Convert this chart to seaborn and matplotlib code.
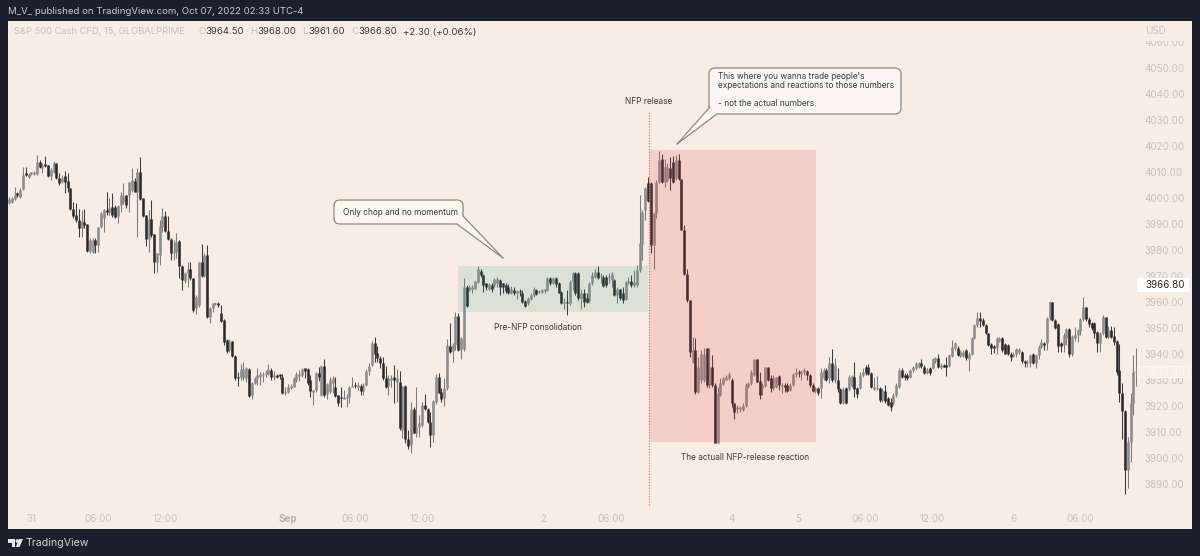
# S&P 500 15m candles with NFP annotations, TradingView look.
import matplotlib
matplotlib.use("Agg")
import matplotlib.pyplot as plt
import numpy as np
import pandas as pd
import seaborn as sns
from matplotlib.patches import Circle, FancyBboxPatch, Polygon, Rectangle
from matplotlib.transforms import Affine2D

opens = [
    3998.1,3998.5,3999.4,4001.9,4000.4,4003.2,4009.4,4008.1,4009.0,4009.1,
    4009.0,4013.9,4011.3,4013.0,4012.6,4008.5,4010.0,4013.2,4007.5,4006.2,
    4008.4,4006.4,4003.6,3995.7,3993.4,3991.4,3988.2,3990.8,3989.8,3979.6,
    3979.2,3983.7,3981.8,3988.6,3992.1,3995.3,3994.6,3996.6,3996.6,3993.0,
    3997.2,3998.5,4001.0,4001.0,4003.0,4006.6,4002.3,4009.8,3999.8,3993.4,
    3984.1,3991.8,3986.0,3975.4,3978.0,3988.9,3993.0,3987.3,3984.0,3978.6,
    3979.2,3983.4,3973.7,3968.1,3970.9,3972.8,3969.0,3957.5,3958.7,3975.4,
    3970.0,3978.0,3954.2,3957.5,3959.1,3959.4,3955.5,3953.0,3945.3,3941.4,
    3945.0,3939.1,3931.2,3930.9,3930.5,3930.5,3934.0,3924.1,3928.6,3930.5,
    3931.2,3931.8,3932.2,3932.4,3933.7,3931.2,3931.8,3932.1,3930.9,3924.8,
    3925.4,3926.7,3927.3,3929.9,3931.4,3931.8,3934.4,3934.0,3930.1,3925.4,
    3926.0,3932.7,3924.1,3935.3,3924.5,3925.4,3928.9,3927.3,3924.1,3923.5,
    3922.7,3922.8,3923.5,3927.3,3928.0,3927.3,3927.6,3925.8,3928.0,3933.5,
    3935.7,3944.2,3940.4,3938.2,3936.6,3930.5,3927.6,3929.9,3930.9,3929.2,
    3929.2,3910.7,3927.6,3907.1,3904.9,3918.6,3909.6,3911.9,3912.6,3920.3,
    3918.6,3913.9,3908.7,3921.6,3931.2,3925.4,3922.8,3926.7,3943.0,3941.2,
    3943.3,3954.5,3941.4,3942.0,3965.5,3964.5,3964.8,3965.1,3967.7,3971.9,
    3970.3,3967.1,3965.1,3966.4,3966.4,3967.3,3968.4,3967.1,3966.4,3965.8,
    3963.2,3964.5,3963.2,3964.2,3963.5,3960.4,3959.4,3960.9,3962.6,3964.5,
    3963.6,3963.9,3964.2,3964.5,3969.0,3967.1,3969.2,3967.1,3963.9,3959.4,
    3960.0,3959.6,3967.7,3971.2,3971.2,3961.3,3963.2,3961.3,3960.6,3967.1,
    3969.6,3971.5,3969.4,3969.6,3969.6,3969.4,3968.4,3968.4,3962.6,3964.8,
    3963.2,3960.9,3967.3,3968.1,3966.4,3966.4,3972.2,3982.4,3995.3,4005.5,
    4005.5,3981.8,3994.0,4006.2,4014.8,4006.2,4006.8,4011.3,4013.9,4007.5,
    4014.5,4007.1,3987.8,3970.6,3960.6,3936.9,3941.4,3925.4,3929.9,3929.9,
    3942.1,3927.9,3935.0,3927.9,3905.5,3924.1,3928.3,3930.1,3930.5,3930.1,
    3920.9,3918.6,3918.6,3918.4,3919.9,3927.6,3928.6,3931.8,3937.8,3929.6,
    3926.7,3927.6,3934.8,3930.5,3926.7,3927.3,3931.4,3927.6,3928.0,3928.0,
    3926.0,3928.0,3932.2,3933.1,3932.7,3933.1,3933.4,3931.8,3928.0,3925.8,
    3926.7,3926.7,3930.5,3933.7,3930.5,3936.3,3929.9,3930.1,3926.3,3920.9,
    3926.7,3926.3,3927.6,3931.2,3926.7,3926.7,3931.8,3934.8,3935.0,3932.5,
    3926.3,3926.3,3926.7,3922.2,3925.8,3922.8,3921.5,3920.9,3924.1,3927.3,
    3933.7,3931.8,3931.8,3931.2,3933.7,3934.4,3935.0,3936.3,3935.0,3932.7,
    3934.4,3934.4,3937.3,3938.2,3934.8,3935.7,3935.7,3935.3,3939.1,3942.1,
    3942.4,3939.1,3939.1,3941.4,3937.8,3940.1,3945.9,3951.0,3953.6,3952.9,
    3951.0,3947.8,3943.7,3943.0,3942.1,3945.0,3945.9,3943.7,3943.3,3940.1,
    3939.1,3939.9,3940.8,3940.8,3937.3,3936.3,3936.3,3940.1,3936.6,3939.5,
    3942.7,3944.2,3944.2,3953.6,3960.0,3953.0,3951.4,3944.2,3943.3,3945.9,
    3949.4,3939.9,3945.9,3947.2,3948.9,3953.2,3957.8,3953.2,3951.7,3951.9,
    3948.5,3944.2,3948.1,3954.0,3946.3,3949.1,3946.8,3945.0,3933.7,3925.0,
    3918.1,3895.3,3906.2,3920.9,3933.1,
]
closes = [
    3999.4,3999.8,4001.0,4001.0,4003.0,4008.7,4008.7,4009.0,4009.8,4010.0,
    4013.9,4011.9,4012.6,4012.2,4008.5,4010.7,4013.2,4007.7,4005.8,4007.8,
    4006.2,4003.6,3995.7,3993.0,3991.4,3988.2,3991.2,3989.5,3979.5,3983.7,
    3983.7,3981.8,3988.6,3994.0,3995.3,3994.6,3995.9,3993.4,3992.7,3996.8,
    4001.0,4000.7,3997.2,4006.2,4006.8,4002.3,4009.8,3999.4,3993.0,3984.1,
    3991.7,3985.7,3975.4,3978.6,3989.1,3993.0,3987.3,3984.0,3978.6,3979.2,
    3983.1,3973.7,3968.4,3970.9,3972.8,3969.0,3956.8,3961.9,3975.4,3970.0,
    3978.0,3954.0,3957.5,3959.4,3959.6,3958.7,3952.7,3944.6,3941.0,3944.6,
    3939.1,3930.5,3930.5,3934.0,3934.0,3934.4,3923.7,3928.9,3930.5,3931.8,
    3932.4,3932.4,3933.1,3934.0,3930.9,3931.8,3931.2,3931.4,3924.8,3925.4,
    3927.1,3927.6,3930.5,3932.4,3932.4,3934.0,3933.5,3928.6,3925.8,3926.0,
    3932.7,3931.2,3935.3,3924.1,3928.4,3930.1,3930.5,3923.7,3921.2,3922.8,
    3923.2,3923.5,3927.3,3927.7,3927.6,3928.0,3925.8,3928.0,3933.5,3935.3,
    3944.2,3940.1,3938.2,3936.3,3930.5,3927.1,3930.5,3930.5,3929.9,3930.5,
    3911.3,3927.6,3907.1,3904.5,3918.6,3909.6,3911.9,3913.2,3920.3,3918.6,
    3913.9,3908.7,3921.9,3931.2,3925.0,3922.5,3926.7,3943.3,3940.8,3943.3,
    3954.5,3941.4,3945.9,3965.8,3958.3,3965.8,3965.8,3968.1,3972.5,3970.3,
    3966.4,3965.5,3966.8,3965.1,3968.7,3968.6,3965.8,3965.5,3964.2,3963.5,
    3965.1,3963.2,3964.1,3963.6,3960.0,3958.4,3961.3,3962.6,3965.1,3962.9,
    3964.2,3964.5,3964.8,3969.0,3967.3,3969.0,3966.8,3963.5,3959.6,3960.0,
    3959.4,3967.7,3971.2,3963.2,3961.3,3963.2,3960.0,3960.0,3967.1,3970.3,
    3971.5,3969.0,3969.9,3966.0,3966.4,3969.9,3970.6,3962.6,3964.8,3961.3,
    3960.6,3967.7,3968.1,3966.4,3967.7,3972.2,3982.7,3994.6,4003.6,3998.9,
    3981.8,3994.2,4006.2,4014.5,4006.2,4011.9,4011.7,4007.8,4006.2,4014.5,
    4007.1,3987.8,3970.6,3960.6,3940.6,3941.4,3925.4,3935.0,3940.1,3940.1,
    3927.9,3935.0,3927.9,3905.5,3924.8,3928.6,3930.5,3931.2,3932.4,3920.9,
    3917.7,3919.4,3919.4,3919.9,3927.9,3928.6,3933.1,3937.8,3929.2,3924.1,
    3928.0,3934.8,3929.9,3926.7,3930.5,3930.9,3928.0,3928.0,3927.3,3925.8,
    3928.0,3932.2,3933.1,3932.5,3933.5,3933.7,3931.8,3928.0,3925.8,3926.7,
    3924.8,3933.1,3933.7,3929.9,3936.3,3929.9,3935.7,3926.3,3920.9,3926.3,
    3920.9,3931.2,3931.4,3926.3,3924.5,3931.8,3933.1,3932.5,3932.2,3927.3,
    3927.3,3926.8,3922.2,3926.0,3921.9,3920.3,3919.4,3924.1,3928.0,3933.7,
    3931.2,3930.9,3930.5,3933.7,3934.8,3936.3,3936.3,3935.3,3932.7,3933.7,
    3932.5,3937.8,3938.2,3935.0,3935.7,3935.0,3935.0,3939.5,3942.7,3944.2,
    3939.5,3940.8,3940.8,3938.2,3940.1,3945.9,3951.0,3953.6,3952.7,3951.0,
    3947.8,3943.3,3942.4,3942.1,3945.9,3945.9,3941.4,3940.1,3939.9,3938.9,
    3939.9,3941.7,3941.7,3937.3,3936.3,3936.9,3939.5,3936.6,3939.5,3942.7,
    3944.6,3943.3,3953.6,3960.0,3953.0,3949.8,3942.9,3942.9,3947.2,3949.4,
    3939.9,3946.8,3947.2,3949.1,3953.2,3957.8,3953.2,3951.4,3949.8,3947.8,
    3944.2,3948.1,3954.0,3946.3,3949.1,3946.5,3944.6,3933.1,3925.0,3918.1,
    3895.3,3906.2,3920.9,3933.1,3933.4,
]
highs = [
    4000.4,4000.4,4004.2,4002.3,4003.6,4011.9,4011.9,4009.4,4010.0,4010.4,
    4016.4,4014.5,4013.2,4016.2,4012.8,4011.3,4014.3,4013.5,4009.4,4008.7,
    4010.4,4009.4,4003.9,3998.5,3998.1,3995.7,3995.3,3995.5,3989.8,3984.4,
    3984.4,3984.6,3988.6,3994.6,3995.5,4002.3,3999.8,4001.7,3997.2,3997.2,
    4002.3,4005.5,4001.0,4006.2,4011.3,4007.5,4011.3,4015.5,4000.1,3993.4,
    3995.3,3999.1,3986.0,3978.6,3991.4,3995.9,3995.0,3993.0,3984.4,3983.7,
    3986.3,3983.7,3974.1,3971.6,3975.4,3975.4,3969.3,3962.6,3975.4,3982.2,
    3978.6,3981.8,3958.1,3959.6,3960.0,3959.8,3958.7,3953.2,3945.5,3945.5,
    3945.0,3939.4,3933.1,3936.0,3936.9,3934.8,3934.4,3929.2,3931.2,3934.4,
    3933.1,3933.1,3933.7,3936.0,3934.4,3933.5,3932.4,3932.4,3932.4,3927.3,
    3928.4,3928.4,3931.2,3933.1,3933.7,3934.4,3934.4,3934.4,3931.8,3926.0,
    3933.1,3934.8,3935.7,3937.8,3928.6,3930.9,3931.4,3930.9,3924.1,3927.3,
    3926.0,3924.5,3927.6,3930.9,3929.2,3929.2,3928.4,3928.6,3934.0,3936.3,
    3945.0,3946.3,3943.0,3939.1,3938.9,3935.3,3931.8,3931.8,3935.7,3934.0,
    3933.5,3927.6,3928.0,3910.7,3921.6,3919.6,3927.3,3916.4,3921.6,3924.5,
    3919.0,3917.7,3922.2,3932.4,3932.7,3926.7,3930.5,3945.5,3951.7,3944.0,
    3956.2,3955.5,3946.3,3969.0,3966.4,3966.4,3966.4,3968.1,3973.7,3972.8,
    3970.6,3967.3,3967.3,3967.3,3969.0,3969.4,3968.6,3967.3,3967.1,3966.8,
    3966.0,3965.8,3964.5,3964.8,3964.5,3960.6,3961.9,3963.2,3965.8,3964.8,
    3964.5,3964.8,3965.1,3969.4,3969.6,3969.6,3969.6,3967.7,3964.1,3961.3,
    3964.5,3968.3,3971.5,3971.5,3971.5,3964.8,3965.1,3963.2,3967.7,3971.5,
    3972.8,3973.7,3970.9,3970.3,3970.3,3971.2,3971.5,3968.6,3965.8,3965.1,
    3965.8,3968.1,3969.6,3970.3,3972.2,3974.1,4001.0,3995.3,4004.2,4008.1,
    4006.2,3994.2,4006.8,4018.1,4016.8,4015.1,4013.2,4015.8,4016.0,4016.4,
    4016.8,4007.4,3989.5,3972.8,3960.6,3946.5,3945.9,3938.9,3941.4,3942.1,
    3942.4,3942.1,3939.5,3928.6,3927.3,3930.5,3930.9,3931.8,3933.1,3930.5,
    3920.9,3920.3,3919.9,3920.9,3928.6,3929.2,3933.7,3937.8,3937.8,3933.1,
    3928.6,3935.0,3935.0,3931.8,3931.8,3931.2,3931.8,3928.6,3928.6,3928.6,
    3928.6,3932.5,3934.4,3933.7,3933.7,3934.4,3933.7,3932.2,3928.6,3927.3,
    3927.3,3934.4,3934.4,3934.4,3938.9,3941.7,3938.2,3934.4,3926.7,3927.3,
    3927.3,3931.8,3931.8,3936.9,3927.3,3933.1,3934.4,3935.7,3936.0,3933.1,
    3931.2,3931.4,3927.3,3926.7,3928.0,3923.5,3922.8,3924.8,3928.6,3934.4,
    3934.4,3932.5,3932.5,3934.0,3935.3,3936.9,3936.9,3937.8,3935.7,3934.4,
    3935.0,3938.2,3938.9,3939.9,3936.3,3935.9,3938.6,3940.1,3945.3,3944.6,
    3942.9,3941.4,3941.4,3941.7,3940.8,3946.6,3951.4,3956.2,3956.2,3953.6,
    3951.4,3948.1,3944.0,3943.3,3946.6,3946.6,3946.6,3944.0,3943.7,3940.8,
    3940.8,3942.1,3942.1,3941.0,3937.6,3937.6,3939.9,3940.4,3940.1,3943.3,
    3945.5,3944.6,3954.2,3960.4,3960.0,3953.2,3951.7,3944.6,3947.8,3949.8,
    3949.8,3947.2,3950.4,3949.4,3953.6,3961.7,3958.1,3954.2,3952.3,3952.3,
    3948.9,3948.5,3954.9,3954.2,3950.6,3950.6,3950.4,3945.3,3943.7,3928.6,
    3918.3,3908.1,3924.8,3939.5,3942.4,
]
lows = [
    3997.8,3998.1,3999.1,4000.4,4000.1,4003.0,4008.4,4007.6,4008.6,4008.7,
    4008.7,4011.3,4009.4,4011.7,4008.1,4006.8,4009.4,4007.1,4004.9,4005.8,
    4001.9,4002.3,3995.3,3992.1,3990.8,3984.8,3984.8,3988.2,3979.3,3978.9,
    3978.6,3978.6,3979.3,3988.2,3986.9,3993.4,3993.4,3992.7,3992.1,3990.4,
    3994.6,3997.8,3995.9,3994.6,4002.3,4002.3,3985.0,3999.1,3992.7,3981.4,
    3979.3,3985.0,3970.9,3971.6,3974.1,3986.9,3986.9,3983.7,3976.0,3976.0,
    3976.7,3969.0,3964.5,3967.1,3965.8,3968.4,3956.2,3955.3,3958.1,3969.6,
    3969.6,3953.6,3951.9,3956.2,3958.7,3958.1,3952.3,3943.3,3940.4,3940.8,
    3938.9,3930.1,3927.6,3930.1,3930.1,3929.2,3923.2,3922.5,3928.4,3928.0,
    3928.0,3929.2,3931.2,3931.8,3930.1,3930.1,3930.5,3930.3,3924.5,3924.1,
    3925.0,3926.3,3927.1,3929.2,3929.6,3930.9,3930.5,3928.0,3923.5,3920.3,
    3925.4,3929.6,3923.9,3923.5,3922.5,3924.8,3924.8,3923.5,3919.9,3919.4,
    3922.5,3919.4,3921.2,3927.1,3926.7,3926.0,3924.1,3924.1,3927.6,3931.8,
    3935.3,3936.9,3936.9,3934.4,3929.9,3926.7,3924.1,3927.3,3921.2,3921.6,
    3910.7,3907.5,3905.5,3903.2,3901.9,3909.4,3908.1,3908.1,3911.9,3918.4,
    3913.2,3904.2,3906.2,3920.7,3924.8,3921.6,3919.9,3926.0,3940.4,3936.9,
    3941.4,3941.2,3937.8,3941.0,3958.1,3964.2,3963.2,3964.8,3967.3,3969.6,
    3963.9,3964.5,3964.5,3963.9,3965.8,3965.8,3962.6,3963.2,3963.2,3962.9,
    3962.9,3962.6,3960.9,3962.2,3959.4,3957.8,3958.7,3960.6,3961.9,3962.6,
    3963.2,3963.2,3963.2,3964.2,3966.4,3966.8,3965.8,3963.2,3959.1,3957.4,
    3954.9,3958.7,3964.5,3962.6,3960.6,3957.4,3958.1,3959.4,3959.6,3966.4,
    3969.0,3968.6,3967.3,3965.8,3965.8,3967.3,3965.8,3962.2,3959.4,3960.6,
    3959.6,3960.6,3966.8,3965.8,3965.8,3965.8,3971.5,3976.0,3991.4,3998.5,
    3978.6,3972.8,3992.1,4005.8,4005.5,4004.2,4006.2,4003.0,4005.8,4006.8,
    4006.8,3987.6,3970.3,3960.0,3938.9,3936.3,3924.5,3924.8,3928.6,3929.2,
    3927.3,3926.7,3927.3,3905.5,3905.5,3923.7,3928.0,3929.9,3930.1,3919.4,
    3915.1,3917.1,3917.7,3918.1,3919.6,3926.7,3928.0,3931.4,3929.2,3922.5,
    3924.1,3927.3,3929.6,3925.4,3926.0,3926.7,3926.0,3925.0,3925.4,3925.4,
    3925.8,3927.6,3931.2,3930.9,3930.1,3931.8,3930.1,3927.3,3925.4,3925.0,
    3924.1,3922.8,3929.9,3929.6,3928.6,3929.2,3928.6,3925.4,3920.6,3920.6,
    3920.6,3925.8,3927.3,3923.5,3922.8,3926.3,3930.9,3931.8,3931.8,3926.7,
    3926.0,3926.0,3921.5,3921.5,3920.9,3919.9,3918.1,3920.3,3923.5,3926.7,
    3930.5,3929.9,3930.1,3930.5,3933.1,3933.7,3934.4,3934.4,3932.2,3932.2,
    3931.8,3934.0,3936.5,3934.4,3934.0,3934.8,3931.4,3934.8,3938.6,3941.4,
    3939.1,3938.9,3938.6,3937.6,3933.5,3939.5,3945.5,3950.4,3950.4,3950.6,
    3947.6,3942.9,3939.9,3940.4,3939.9,3944.6,3940.8,3939.9,3939.5,3937.3,
    3938.6,3938.6,3940.1,3936.6,3934.8,3935.0,3934.8,3936.0,3934.4,3937.8,
    3942.4,3941.4,3941.4,3953.0,3952.7,3949.4,3940.8,3940.8,3940.8,3943.3,
    3938.9,3939.1,3945.0,3944.6,3947.2,3952.7,3952.7,3950.4,3949.1,3945.9,
    3940.8,3940.8,3947.2,3945.9,3945.9,3945.9,3943.3,3931.8,3921.6,3907.4,
    3886.0,3888.2,3898.5,3916.4,3927.6,
]

time_ticks = [8, 32, 56, 100, 124, 148, 191.5, 216, 259, 283, 307, 331, 360, 384]
time_labels = ['31', '06:00', '12:00', 'Sep', '06:00', '12:00', '2', '06:00',
               '4', '5', '06:00', '12:00', '6', '06:00']
price_ticks = list(range(3890, 4061, 10))

# annotated zones (first bar, last bar, low, high)
consolidation = [160.9, 229.0, 3956.0, 3973.7]
reaction = [229.4, 289.2, 3906.0, 4018.3]
nfp_line = [229.4, 3881.8, 4033.0]

BG = '#f7ede4'
DARK = '#1c202c'
TICK = '#c6c2be'
TEXT = '#3c3c3c'

sns.set_theme(style='white')
plt.rcParams['font.family'] = ['Inter', 'DejaVu Sans']

df = pd.DataFrame({'bar': np.arange(len(opens)), 'open': opens, 'high': highs,
                   'low': lows, 'close': closes})
df['direction'] = np.where(df['close'] >= df['open'], 'up', 'down')
wicks = df.melt(id_vars=['bar', 'direction'], value_vars=['low', 'high'], value_name='price')
bodies = df.melt(id_vars=['bar', 'direction'], value_vars=['open', 'close'], value_name='price')
palette = {'up': '#8b8b8b', 'down': '#2a2a2a'}
wick_palette = {'up': '#7a7a7a', 'down': '#3a3a3a'}

fig = plt.figure(figsize=(12, 5.56), dpi=100, facecolor=DARK)
ax = fig.add_axes([8 / 1200, 1 - 529 / 556, 1184 / 1200, 508 / 556], facecolor=BG)

sns.lineplot(data=wicks, x='bar', y='price', units='bar', hue='direction', estimator=None,
             palette=wick_palette, sort=False, linewidth=0.75, legend=False, ax=ax,
             solid_capstyle='butt', zorder=2)
sns.lineplot(data=bodies, x='bar', y='price', units='bar', hue='direction', estimator=None,
             palette=palette, sort=False, linewidth=1.85, legend=False, ax=ax,
             solid_capstyle='butt', zorder=3)

ax.set_xlim(-0.36, 424.0)
ax.set_ylim(3872.6, 4068.0)
ax.set_xlabel('')
ax.set_ylabel('')
sns.despine(ax=ax, left=True, bottom=True, right=True, top=True)

ax.set_xticks(time_ticks)
ax.set_xticklabels(time_labels)
ax.set_yticks(price_ticks)
ax.set_yticklabels([f'{p:.2f}' for p in price_ticks])
ax.yaxis.tick_right()
ax.tick_params(axis='x', length=0, pad=-11, labelsize=7.1, labelcolor=TICK)
ax.tick_params(axis='y', length=0, pad=-34, labelsize=7.1, labelcolor=TICK)
for lab in ax.get_xticklabels():
    if lab.get_text() == 'Sep':
        lab.set_fontweight('bold')
        lab.set_color('#b5b2ae')

# zones sit over the candles, that's why they tint them
ax.add_patch(Rectangle((consolidation[0], consolidation[2]), consolidation[1] - consolidation[0],
                       consolidation[3] - consolidation[2], facecolor='#1e9682', alpha=0.13,
                       lw=0, zorder=4))
ax.add_patch(Rectangle((reaction[0], reaction[2]), reaction[1] - reaction[0],
                       reaction[3] - reaction[2], facecolor='#f23645', alpha=0.17,
                       lw=0, zorder=4))
ax.plot([nfp_line[0], nfp_line[0]], nfp_line[1:], color='#e0686c', lw=0.8, ls=(0, (1, 1.5)), zorder=5)

# everything below is placed in image pixels, y going down
px = Affine2D().scale(1, -1).translate(0, 556)


def label(x, y, s, color=TEXT, size=6.0, ha='left', **kw):
    fig.text(x / 1200, 1 - y / 556, s, color=color, fontsize=size, ha=ha, va='center', **kw)


def callout(x0, y0, x1, y1, tail, text_x, text_y, text):
    edge = '#8c8880'
    fig.add_artist(FancyBboxPatch((x0, y0), x1 - x0, y1 - y0, boxstyle='round,pad=0,rounding_size=6',
                                  facecolor='#fcf7f2', edgecolor=edge, lw=0.9, transform=px, zorder=6))
    fig.add_artist(Polygon(tail, closed=True, facecolor='#fcf7f2', edgecolor='none', transform=px, zorder=7))
    for a, b in [(tail[0], tail[1]), (tail[1], tail[2])]:
        fig.add_artist(plt.Line2D([a[0], b[0]], [a[1], b[1]], color=edge, lw=0.9, transform=px, zorder=8))
    label(text_x, text_y, text, linespacing=1.0, zorder=9)


callout(334, 200, 463, 224, [(463, 216), (503, 258), (457, 224)], 343, 212, 'Only chop and no momentum')
callout(709, 68, 901, 114, [(710, 107), (677, 144), (717, 114)], 718, 90,
        "This where you wanna trade people's\nexpectations and reactions to those numbers\n\n- not the actual numbers.")

label(649, 101, 'NFP release', ha='center')
label(538, 327, 'Pre-NFP consolidation', ha='center')
label(745, 458, 'The actuall NFP-release reaction', ha='center')

# header
label(8, 11, 'M_V_ published on TradingView.com, Oct 07, 2022 02:33 UTC-4', color='#c9cbd0', size=6.9)
label(14, 32, 'S&P 500 Cash CFD, 15, GLOBALPRIME', color=TICK, size=6.75)
for lx, name, vx, val in [(198, 'O', 205, '3964.50'), (250, 'H', 257, '3968.00'),
                          (302, 'L', 308, '3961.60'), (351, 'C', 358, '3966.80')]:
    label(lx, 32, name, color=TICK, size=6.9)
    label(vx, 32, val, color='#3a3a3a', size=6.9)
label(403, 32, '+2.30 (+0.06%)', color='#3a3a3a', size=6.9)

# the scale is cut off under the USD line
fig.add_artist(Rectangle((1140, 22), 50, 19, facecolor=BG, lw=0, transform=px, zorder=5))
label(1145, 31, 'USD', color=TICK, size=7.1, zorder=6)

# last price tags
fig.add_artist(Rectangle((1137, 278), 52, 14, facecolor='white', lw=0, transform=px, zorder=6))
label(1145, 285, '3966.80', color='#2a2a2a', size=7.1, zorder=7)
fig.add_artist(Rectangle((1137, 366), 51, 11, facecolor=BG, edgecolor='#fbf7f3', lw=0.8, transform=px, zorder=6))
label(1145, 372, '3933.40', color='#fbf7f3', size=7.1, zorder=7)

# footer logo
logo = '#e8e9ec'
fig.add_artist(Polygon([(8, 539), (15, 539), (15, 547), (12, 547), (12, 543), (8, 543)],
                       facecolor=logo, lw=0, transform=px))
fig.add_artist(Circle((17.3, 541), 1.8, facecolor=logo, lw=0, transform=px))
fig.add_artist(Polygon([(19, 539), (23, 539), (19.5, 547), (15.8, 547)], facecolor=logo, lw=0, transform=px))
label(26, 543, 'TradingView', color='#d4d6da', size=7.6)

fig.savefig('out.png', dpi=100, facecolor=DARK)
